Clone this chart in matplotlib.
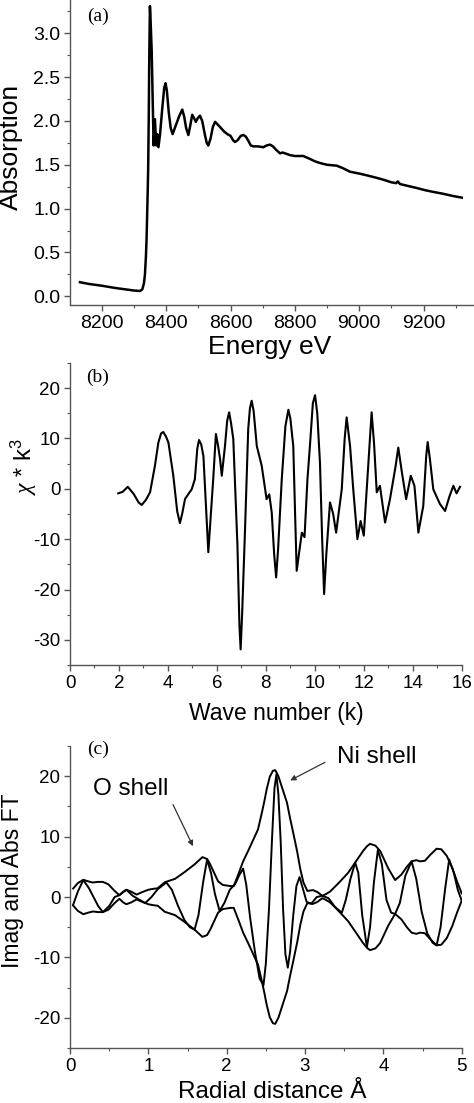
import matplotlib
matplotlib.use("Agg")
import matplotlib.pyplot as plt
from matplotlib.ticker import MultipleLocator

# (a) absorption spectrum
ENERGY = [8132, 8160, 8200, 8240, 8280, 8300, 8319, 8326, 8331, 8334, 8337, 8339,
          8342, 8344, 8346, 8347, 8348, 8349.5, 8351, 8355, 8358, 8361, 8365, 8369,
          8372, 8376, 8381, 8388, 8394, 8398, 8402, 8408, 8414, 8420, 8425, 8432,
          8440, 8450, 8456, 8462, 8469, 8475, 8481, 8487, 8492, 8498, 8505, 8512,
          8520, 8526, 8531, 8538, 8545, 8552, 8560, 8570, 8580, 8590, 8600, 8608,
          8614, 8622, 8632, 8640, 8648, 8656, 8663, 8671, 8685, 8702, 8712, 8723,
          8732, 8742, 8754, 8762, 8770, 8785, 8800, 8826, 8845, 8862, 8878, 8900,
          8930, 8950, 8972, 9000, 9023, 9050, 9075, 9100, 9115, 9120, 9127, 9150,
          9179, 9205, 9231, 9260, 9290, 9319]
ABSORPTION = [0.16, 0.14, 0.12, 0.095, 0.075, 0.065, 0.06, 0.08, 0.15, 0.25, 0.45, 0.65,
              1.1, 1.45, 2.1, 2.56, 2.9, 3.31, 3.2, 2.8, 2.25, 1.72, 2.02, 1.72,
              1.85, 1.70, 1.85, 2.15, 2.38, 2.43, 2.35, 2.1, 1.92, 1.85, 1.90, 1.97,
              2.05, 2.13, 2.05, 1.92, 1.84, 1.95, 2.07, 2.03, 1.99, 2.03, 2.06, 2.0,
              1.85, 1.75, 1.72, 1.80, 1.93, 1.99, 1.96, 1.92, 1.88, 1.85, 1.83, 1.78,
              1.76, 1.78, 1.83, 1.84, 1.82, 1.77, 1.72, 1.71, 1.71, 1.70, 1.72, 1.73,
              1.71, 1.67, 1.63, 1.64, 1.63, 1.61, 1.60, 1.60, 1.57, 1.54, 1.52, 1.50,
              1.49, 1.46, 1.42, 1.40, 1.38, 1.355, 1.33, 1.30, 1.29, 1.31, 1.28, 1.26,
              1.235, 1.21, 1.19, 1.17, 1.145, 1.125]

# (b) chi(k) * k^3
WAVE_K = [1.97, 2.15, 2.36, 2.6, 2.8, 2.93, 3.1, 3.27, 3.47, 3.61, 3.72, 3.81,
          3.92, 4.02, 4.22, 4.38, 4.49, 4.58, 4.70, 4.97, 5.1, 5.2, 5.27, 5.36,
          5.45, 5.56, 5.65, 5.74, 5.85, 5.96, 6.05, 6.13, 6.2, 6.33, 6.42, 6.5,
          6.58, 6.67, 6.84, 6.92, 6.97, 7.03, 7.15, 7.28, 7.35, 7.42, 7.5, 7.63,
          7.83, 8.03, 8.14, 8.24, 8.34, 8.42, 8.5, 8.65, 8.8, 8.92, 9.0, 9.12,
          9.2, 9.26, 9.35, 9.47, 9.58, 9.7, 9.80, 9.92, 10.01, 10.1, 10.21, 10.3,
          10.38, 10.47, 10.62, 10.75, 10.87, 11.1, 11.22, 11.3, 11.44, 11.57, 11.74,
          11.87, 12.0, 12.19, 12.32, 12.42, 12.53, 12.66, 12.87, 13.07, 13.3, 13.41,
          13.55, 13.73, 13.92, 14.07, 14.23, 14.43, 14.55, 14.61, 14.7, 14.84, 15.11,
          15.32, 15.5, 15.66, 15.79, 15.93]
CHI_K3 = [-0.9, -0.6, 0.4, -1.0, -2.7, -3.2, -2.2, -0.7, 4.6, 9.2, 11.0, 11.3,
          10.4, 9.2, 2.6, -4.5, -6.8, -5.0, -2.0, -0.1, 1.9, 8.0, 9.7, 8.8,
          6.5, -4.0, -12.6, -6.0, 1.9, 10.9, 8.5, 5.9, 2.6, 8.5, 13.5, 15.2,
          13.0, 9.9, -11.3, -27.0, -31.9, -25.0, -8.0, 11.9, 16.0, 17.5, 15.5, 8.5,
          4.6, -2.05, -1.1, -4.7, -13.0, -17.6, -12.0, 1.9, 12.5, 15.7, 14.0, 8.5,
          -6.0, -16.3, -13.0, -8.7, -9.6, 2.0, 8.5, 17.0, 18.6, 15.0, 5.2, -10.0,
          -20.9, -13.0, -2.7, -5.0, -8.7, -0.1, 10.0, 14.2, 8.5, -0.1, -10.0,
          -6.4, -9.3, 5.2, 15.2, 9.0, -0.7, 0.6, -6.7, -2.05, 4.5, 8.2,
          3.5, -2.05, 2.6, 0.6, -8.7, -3.4, 6.5, 9.3, 6.0, -0.1, -3.0,
          -4.4, -1.5, 0.6, -0.9, 0.4]

# (c) Fourier transform: magnitude (plotted as +/- envelope) and imaginary part
R_ABS = [0.04, 0.10, 0.17, 0.23, 0.29, 0.36, 0.42, 0.49, 0.57, 0.63, 0.68, 0.72,
         0.78, 0.85, 0.92, 1.0, 1.06, 1.12, 1.21, 1.34, 1.46, 1.59, 1.69, 1.75,
         1.79, 1.84, 1.89, 1.95, 2.0, 2.05, 2.09, 2.15, 2.21, 2.28, 2.34, 2.40,
         2.45, 2.48, 2.51, 2.55, 2.59, 2.62, 2.66, 2.71, 2.77, 2.81, 2.85, 2.90,
         2.94, 2.98, 3.03, 3.1, 3.16, 3.22, 3.27, 3.32, 3.39, 3.45, 3.55, 3.64,
         3.74, 3.79, 3.83, 3.90, 3.96, 4.06, 4.15, 4.23, 4.30, 4.36, 4.42, 4.47,
         4.53, 4.60, 4.68, 4.74, 4.81, 4.88, 4.94, 5.0]
FT_ABS = [1.4, 2.3, 2.85, 2.6, 2.4, 2.5, 2.5, 2.1, 1.0, 0.3, 0.9, 1.2,
          0.9, 0.4, 0.8, 1.2, 1.35, 1.45, 2.45, 3.0, 4.1, 5.4, 6.6, 6.3,
          5.4, 4.0, 2.6, 2.0, 1.9, 1.8, 1.8, 3.8, 5.9, 7.8, 9.5, 11.2,
          14.0, 15.8, 17.8, 19.9, 20.9, 21.0, 20.0, 18.0, 15.6, 13.0, 10.6, 7.5,
          4.6, 2.4, 1.0, 1.15, 0.8, 0.2, 0.5, 0.9, 1.8, 2.6, 4.0, 5.7,
          7.6, 8.4, 8.8, 8.5, 7.6, 4.8, 2.8, 3.7, 5.0, 5.9, 6.1, 5.9,
          6.0, 7.0, 8.0, 7.9, 6.8, 4.8, 2.6, 0.6]
R_IMAG = [0.04, 0.10, 0.17, 0.24, 0.30, 0.36, 0.42, 0.50, 0.57, 0.63, 0.72, 0.80,
          0.88, 0.96, 1.04, 1.12, 1.23, 1.30, 1.38, 1.46, 1.53, 1.59, 1.64, 1.70,
          1.75, 1.80, 1.85, 1.91, 1.97, 2.04, 2.11, 2.16, 2.21, 2.25, 2.30, 2.36,
          2.42, 2.47, 2.50, 2.54, 2.58, 2.61, 2.635, 2.66, 2.69, 2.72, 2.75, 2.78,
          2.81, 2.85, 2.89, 2.93, 2.97, 3.02, 3.08, 3.15, 3.22, 3.30, 3.38, 3.47,
          3.52, 3.58, 3.64, 3.68, 3.73, 3.79, 3.83, 3.88, 3.93, 3.98, 4.04, 4.10,
          4.15, 4.21, 4.28, 4.36, 4.42, 4.49, 4.56, 4.63, 4.68, 4.73, 4.79, 4.84,
          4.90, 4.95, 5.0]
FT_IMAG = [-1.3, 0.9, 2.8, 1.5, 0.0, -1.5, -2.5, -1.5, 0.0, 0.3, 1.2, 0.2,
           -0.4, -1.0, 0.0, 1.3, 2.4, 1.2, -1.5, -3.8, -5.0, -5.4, -3.0, 2.5,
           6.2, 4.0, 0.5, -2.3, -1.0, 1.2, 2.2, 3.6, 4.7, 2.0, -3.5, -9.0,
           -13.5, -14.6, -11.0, -2.0, 10.0, 18.0, 20.3, 17.0, 9.0, -2.0, -9.5, -11.7,
           -9.0, -3.0, 1.8, 3.3, 1.5, -0.8, -1.1, 0.0, 0.2, -0.2, -1.6, -2.6,
           -0.5, 3.0, 5.7, 4.0, -3.0, -8.3, -5.0, 2.5, 7.8, 5.5, -0.5, -2.6,
           -2.8, -1.0, 3.5, 5.9, 3.0, -2.5, -6.0, -7.6, -8.0, -5.0, 1.5, 6.2,
           4.0, 1.2, -0.6]

SANS = "Liberation Sans"
plt.rcParams["font.family"] = [SANS, "DejaVu Sans"]
plt.rcParams["axes.unicode_minus"] = False
plt.rcParams["mathtext.fontset"] = "custom"
plt.rcParams["mathtext.rm"] = SANS
plt.rcParams["mathtext.it"] = "Liberation Serif:italic"
plt.rcParams["mathtext.default"] = "rm"

W, H = 474, 1103
fig = plt.figure(figsize=(W / 100, H / 100), dpi=100)


def px_axes(x0, y0, x1, y1):
    # pixel box (top-left origin) -> figure fraction axes
    return fig.add_axes([x0 / W, 1 - y1 / H, (x1 - x0) / W, (y1 - y0) / H])


def style(ax, tick_size):
    for s in ("top", "right"):
        ax.spines[s].set_visible(False)
    for s in ("left", "bottom"):
        ax.spines[s].set_color("#555555")
        ax.spines[s].set_linewidth(1.0)
    ax.tick_params(which="major", direction="out", length=4, width=1.0,
                   color="#555555", labelsize=tick_size, pad=3)
    ax.tick_params(which="minor", direction="out", length=2.5, width=0.8,
                   color="#555555")


def panel_label(ax, txt, x, y):
    ax.text(x, y, txt, transform=ax.transAxes, family="Liberation Serif",
            fontsize=14, ha="center", va="center")


# (a)
ax1 = px_axes(70, 0, 474, 305)
ax1.plot(ENERGY, ABSORPTION, color="black", lw=1.8)
ax1.set_xlim(8101, 9357)
ax1.set_ylim(-0.1, 3.38)
ax1.xaxis.set_major_locator(MultipleLocator(200))
ax1.xaxis.set_minor_locator(MultipleLocator(100))
ax1.yaxis.set_major_locator(MultipleLocator(0.5))
ax1.yaxis.set_minor_locator(MultipleLocator(0.25))
ax1.yaxis.set_major_formatter(lambda v, p: f"{v:.1f}")
style(ax1, 14)
ax1.set_xlabel("Energy eV", fontsize=19, va="center")
ax1.xaxis.set_label_coords(0.495, -0.138)
ax1.set_ylabel("Absorption", fontsize=19, va="center")
ax1.yaxis.set_label_coords(-0.146, 0.518)
panel_label(ax1, "(a)", 0.069, 0.948)

# (b)
ax2 = px_axes(70, 363, 461.7, 665)
ax2.plot(WAVE_K, CHI_K3, color="black", lw=1.5)
ax2.set_xlim(0, 16)
ax2.set_ylim(-35, 25)
ax2.xaxis.set_major_locator(MultipleLocator(2))
ax2.xaxis.set_minor_locator(MultipleLocator(1))
ax2.yaxis.set_major_locator(MultipleLocator(10))
ax2.yaxis.set_minor_locator(MultipleLocator(5))
style(ax2, 13.5)
ax2.set_xlabel("Wave number (k)", fontsize=16.5, va="center")
ax2.xaxis.set_label_coords(0.526, -0.159)
ax2.set_ylabel(r"$\it{\chi}$ * k$^{3}$", fontsize=17, va="center")
ax2.yaxis.set_label_coords(-0.118, 0.656)
panel_label(ax2, "(b)", 0.071, 0.954)

# (c)
ax3 = px_axes(70, 746, 461.7, 1048)
ax3.plot(R_ABS, FT_ABS, color="black", lw=1.4)
ax3.plot(R_ABS, [-v for v in FT_ABS], color="black", lw=1.4)
ax3.plot(R_IMAG, FT_IMAG, color="black", lw=1.4)
ax3.set_xlim(0, 5)
ax3.set_ylim(-25, 25)
ax3.xaxis.set_major_locator(MultipleLocator(1))
ax3.xaxis.set_minor_locator(MultipleLocator(0.5))
ax3.yaxis.set_major_locator(MultipleLocator(10))
ax3.yaxis.set_minor_locator(MultipleLocator(5))
style(ax3, 13.5)
ax3.set_xlabel("Radial distance Å", fontsize=17.5, va="center")
ax3.xaxis.set_label_coords(0.516, -0.145)
ax3.set_ylabel("Imag and Abs FT", fontsize=16.5, va="center")
ax3.yaxis.set_label_coords(-0.148, 0.553)
panel_label(ax3, "(c)", 0.071, 0.99)

arrow = dict(arrowstyle="-|>", lw=0.9, color="#333333", mutation_scale=8,
             shrinkA=0, shrinkB=0)
ax3.annotate("", xy=(1.57, 8.4), xytext=(1.315, 15.3), arrowprops=arrow)
ax3.annotate("", xy=(2.81, 19.3), xytext=(3.255, 22.3), arrowprops=arrow)
ax3.text(0.78, 17.8, "O shell", fontsize=17.5, ha="center", va="center")
ax3.text(3.92, 23.1, "Ni shell", fontsize=17.5, ha="center", va="center")

fig.savefig("out.png", dpi=100)
